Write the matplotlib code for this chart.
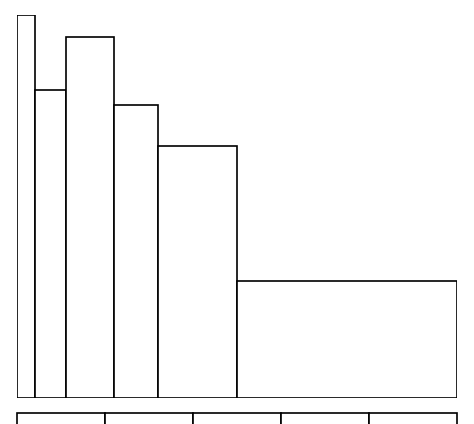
import matplotlib
matplotlib.use("Agg")
import matplotlib.pyplot as plt
import numpy as np

# variable-width bins (edges) and heights
edges = [0, 18, 49, 97, 141, 220, 440]
heights = [383, 308, 361, 293, 252, 117]
# lower strip: five equal boxes
strip_edges = [0, 88, 176, 264, 352, 440]

W, H = 474, 424
fig = plt.figure(figsize=(W / 100, H / 100), dpi=100)

ax = fig.add_axes([17 / W, 26 / H, 440 / W, 383 / H])
lefts = np.array(edges[:-1])
widths = np.diff(edges)
ax.bar(lefts, heights, width=widths, align="edge",
       facecolor="white", edgecolor="black", linewidth=1.2)
ax.set_xlim(edges[0], edges[-1])
ax.set_ylim(0, max(heights))
ax.axis("off")

ax2 = fig.add_axes([17 / W, -20 / H, 440 / W, 31 / H])
ax2.bar(strip_edges[:-1], [1] * 5, width=np.diff(strip_edges), align="edge",
        facecolor="white", edgecolor="black", linewidth=1.2, clip_on=False)
ax2.set_xlim(strip_edges[0], strip_edges[-1])
ax2.set_ylim(0, 1)
ax2.axis("off")

fig.savefig("out.png", dpi=100)
